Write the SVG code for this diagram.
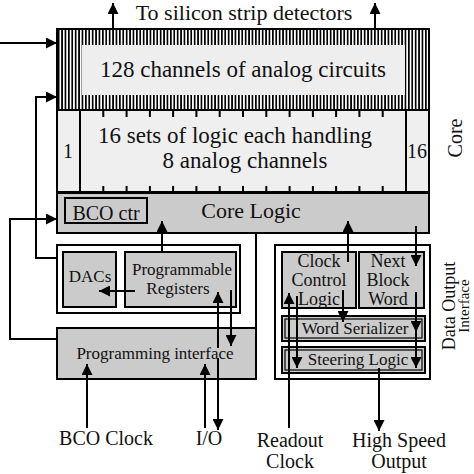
<svg xmlns="http://www.w3.org/2000/svg" width="474" height="474" viewBox="0 0 474 474" font-family="'Liberation Serif', 'DejaVu Serif', serif">
<defs>
<pattern id="hatch" patternUnits="userSpaceOnUse" width="3.4" height="10">
<rect x="0" y="0" width="3.4" height="10" fill="#ffffff"/>
<rect x="0" y="0" width="1.7" height="10" fill="#000000"/>
</pattern>
<marker id="ah" viewBox="0 0 10 10" markerUnits="userSpaceOnUse" markerWidth="11" markerHeight="11" refX="10" refY="5" orient="auto">
<path d="M0,0 L10,5 L0,10 z" fill="#000"/>
</marker>
<style>
text{font-family:'Liberation Serif','DejaVu Serif',serif;fill:#111;}
.b{stroke:#000;stroke-width:2;}
.g{fill:#cbcbcb;}
.l{fill:#efefef;}
.w{fill:#ffffff;}
.c{fill:none;stroke:#000;stroke-width:2;}
.t{font-size:20px;text-anchor:middle;}
.s{font-size:18px;text-anchor:middle;}
</style>
</defs>
<rect width="474" height="474" fill="#fff"/>
<text class="t" x="244" y="20" style="font-size:22px">To silicon strip detectors</text>
<g id="analog">
<rect class="b" x="57" y="29" width="372" height="81" fill="url(#hatch)"/>
<rect x="82" y="45" width="323" height="50" fill="#eeeeee"/>
<text class="t" x="243" y="77" style="font-size:23px">128 channels of analog circuits</text>
</g>
<g id="logic">
<rect class="b l" x="57" y="110" width="372" height="82"/>
<line class="c" x1="80" y1="110" x2="80" y2="192"/>
<line class="c" x1="406" y1="110" x2="406" y2="192"/>
<path class="c" d="M103.3,110V117M126.6,110V117M149.9,110V117M173.1,110V117M196.4,110V117M219.7,110V117M243,110V117M266.3,110V117M289.6,110V117M312.9,110V117M336.1,110V117M359.4,110V117M382.7,110V117M103.3,186V192M126.6,186V192M149.9,186V192M173.1,186V192M196.4,186V192M219.7,186V192M243,186V192M266.3,186V192M289.6,186V192M312.9,186V192M336.1,186V192M359.4,186V192M382.7,186V192"/>
<text class="t" x="235" y="143" style="font-size:23px">16 sets of logic each handling</text>
<text class="t" x="245" y="168" style="font-size:23px">8 analog channels</text>
<text class="t" x="68" y="158">1</text>
<text class="t" x="417" y="158">16</text>
</g>
<g id="core-logic">
<rect class="b g" x="57" y="193" width="372" height="40"/>
<text class="t" x="251" y="218" style="font-size:22px">Core Logic</text>
</g>
<g id="bco-ctr">
<rect class="b g" x="65" y="198" width="82" height="25"/>
<text class="t" x="106" y="220">BCO ctr</text>
</g>
<text class="t" transform="translate(462,138) rotate(-90)">Core</text>
<g id="register-group">
<rect class="b w" x="57" y="245" width="183" height="68"/>
</g>
<g id="dacs">
<rect class="b g" x="63" y="252" width="53" height="55"/>
<text class="s" x="90" y="282" style="font-size:17px">DACs</text>
</g>
<g id="registers">
<rect class="b g" x="125" y="252" width="111" height="55"/>
<text class="s" x="182" y="275" style="font-size:17px">Programmable</text>
<text class="s" x="178" y="294" style="font-size:17px">Registers</text>
</g>
<g id="programming-interface">
<rect class="b g" x="57" y="328" width="199" height="51"/>
<text class="s" x="155" y="359" style="font-size:17px">Programming interface</text>
</g>
<g id="data-output-group">
<rect class="b w" x="275" y="245" width="155" height="134"/>
</g>
<g id="clock-control">
<rect class="b g" x="282" y="252" width="74" height="56"/>
<text class="s" x="319" y="267">Clock</text>
<text class="s" x="319" y="286">Control</text>
<text class="s" x="319" y="305">Logic</text>
</g>
<g id="next-block">
<rect class="b g" x="359" y="252" width="65" height="56"/>
<text class="s" x="388" y="267">Next</text>
<text class="s" x="388" y="286">Block</text>
<text class="s" x="388" y="305">Word</text>
</g>
<g id="word-serializer">
<rect class="b g" x="282" y="316" width="143" height="25"/>
<rect x="285" y="319" width="137" height="19" fill="none" stroke="#000" stroke-width="1.2"/>
<text class="s" x="355" y="334" style="font-size:17px">Word Serializer</text>
</g>
<g id="steering-logic">
<rect class="b g" x="282" y="347" width="143" height="26"/>
<rect x="285" y="350" width="137" height="20" fill="none" stroke="#000" stroke-width="1.2"/>
<text class="s" x="358" y="365" style="font-size:17px">Steering Logic</text>
</g>
<text class="s" transform="translate(455,306) rotate(-90)">Data Output</text>
<text class="s" transform="translate(469,306) rotate(-90)" style="font-size:15px">Interface</text>
<g id="connectors">
<line class="c" x1="113" y1="29" x2="113" y2="3" marker-end="url(#ah)"/>
<line class="c" x1="375" y1="29" x2="375" y2="3" marker-end="url(#ah)"/>
<line class="c" x1="0" y1="43" x2="57" y2="43" marker-end="url(#ah)"/>
<path class="c" d="M57,258H36V97H57" marker-end="url(#ah)"/>
<path class="c" d="M57,339H10V219H57" marker-end="url(#ah)"/>
<line class="c" x1="162" y1="252" x2="162" y2="221" marker-end="url(#ah)"/>
<line class="c" x1="256" y1="233" x2="256" y2="328"/>
<line class="c" x1="135" y1="291" x2="99" y2="291" marker-end="url(#ah)"/>
<line class="c" x1="218" y1="348" x2="218" y2="292" marker-end="url(#ah)"/>
<line class="c" x1="231" y1="290" x2="231" y2="346" marker-end="url(#ah)"/>
<line class="c" x1="87" y1="428" x2="87" y2="364" marker-end="url(#ah)"/>
<line class="c" x1="205" y1="428" x2="205" y2="364" marker-end="url(#ah)"/>
<line class="c" x1="218" y1="358" x2="218" y2="430" marker-end="url(#ah)"/>
<line class="c" x1="348" y1="262" x2="348" y2="221" marker-end="url(#ah)"/>
<line class="c" x1="416" y1="226" x2="416" y2="266" marker-end="url(#ah)"/>
<line class="c" x1="343" y1="290" x2="343" y2="322" marker-end="url(#ah)"/>
<line class="c" x1="416" y1="292" x2="416" y2="332" marker-end="url(#ah)"/>
<line class="c" x1="416" y1="332" x2="416" y2="368" marker-end="url(#ah)"/>
<line class="c" x1="289" y1="428" x2="289" y2="293" marker-end="url(#ah)"/>
<line class="c" x1="297" y1="296" x2="297" y2="368" marker-end="url(#ah)"/>
<line class="c" x1="379" y1="368" x2="379" y2="431" marker-end="url(#ah)"/>
</g>
<text class="t" x="106" y="445">BCO Clock</text>
<text class="t" x="209" y="445">I/O</text>
<text class="t" x="290" y="447">Readout</text>
<text class="t" x="290" y="468">Clock</text>
<text class="t" x="399" y="447">High Speed</text>
<text class="t" x="399" y="468">Output</text>
</svg>
